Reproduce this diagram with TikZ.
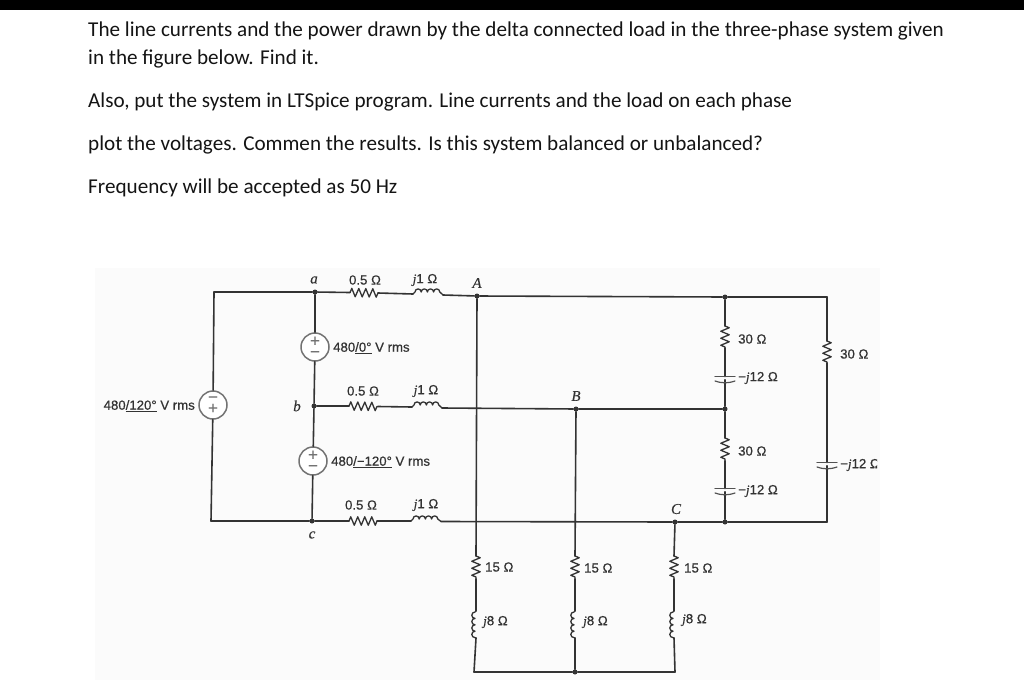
\documentclass[tikz,border=0pt]{standalone}
\usepackage{fontspec}
\setmainfont{Carlito}
\newfontfamily\lab[FakeBold=0.6]{Liberation Sans}
\newfontfamily\ser[FakeBold=0.3]{Liberation Serif}
\usetikzlibrary{decorations.pathmorphing}
\definecolor{ink}{gray}{0.2}
\definecolor{scan}{gray}{0.985}
\newcommand{\ang}[1]{\underline{/#1}}
\newcommand{\jj}{{\ser\itshape j}}
\tikzset{
  x=1pt,y=-1pt,
  wire/.style={draw=ink,line width=1.6pt,line cap=round,line join=round},
  resist/.style={wire,line width=1.3pt,decorate,decoration={zigzag,segment length=7pt,amplitude=4.2pt}},
  headline/.style={anchor=base west,inner sep=0pt,font=\fontsize{21.15pt}{23pt}\selectfont,text=black!92},
  vallabel/.style={inner sep=0pt,text=ink,font=\lab\fontsize{13.2pt}{14pt}\selectfont},
  nodelabel/.style={inner sep=0pt,text=ink,font=\ser\itshape\fontsize{15pt}{16pt}\selectfont},
  jdot/.style={circle,fill=ink,inner sep=0pt,minimum size=5pt},
  srcv/.style={circle,draw=black!55,fill=white,line width=1.5pt,minimum size=28pt,inner sep=0pt,align=center,text=black!55,font=\lab\fontsize{17pt}{11pt}\selectfont},
  plate/.style={draw=ink!85,line width=1.2pt,line cap=round},
}
\newcommand{\hcoil}[2]{\draw[wire,line width=1.3pt] (#1) -- ++(2,-2) arc[start angle=180,end angle=360,radius=3.1] arc[start angle=180,end angle=360,radius=3.1] arc[start angle=180,end angle=360,radius=3.1] arc[start angle=180,end angle=360,radius=3.1] -- (#2);}
\newcommand{\vcoil}[2]{\draw[wire,line width=1.3pt] (#1) -- ++(-1,1) arc[start angle=270,end angle=90,radius=3.2] arc[start angle=270,end angle=90,radius=3.2] arc[start angle=270,end angle=90,radius=3.2] arc[start angle=270,end angle=90,radius=3.2] -- (#2);}
\begin{document}
\begin{tikzpicture}
\useasboundingbox (0,0) rectangle (1024,680);
\fill[white] (0,0) rectangle (1024,680);
\fill[black] (0,0) rectangle (1024,10);
\fill[scan] (95,268) rectangle (880,680);

% heading
\node[headline] (h1) at (88,36) {The line currents and the power drawn by the delta connected load in the three-phase system given};
\node[headline] (h2) at (88,64) {in the figure below. Find it.};
\node[headline] (h3) at (88,107) {Also, put the system in LTSpice program. Line currents and the load on each phase};
\node[headline] (h4) at (88,150) {plot the voltages. Commen the results. Is this system balanced or unbalanced?};
\node[headline] (h5) at (88,193) {Frequency will be accepted as 50 Hz};

% junctions
\node[jdot] (a) at (315,292) {};
\node[jdot] (b) at (314,406) {};
\node[jdot] (c) at (312,521) {};
\node[jdot] (A) at (477,296) {};
\node[jdot] (B) at (576,409) {};
\node[jdot] (C) at (675,522) {};
\node[jdot] (P) at (725,297) {};
\node[jdot] (Q) at (725,409) {};
\node[jdot] (R) at (725,522) {};
\node[jdot] (N) at (575,672) {};

% corners
\coordinate (tl) at (214,292);
\coordinate (bl) at (211,521);
\coordinate (tr) at (827,297);
\coordinate (br) at (827,522);
\coordinate (nl) at (474,672);
\coordinate (nr) at (675,672);

% sources
\node[srcv] (Vl) at (213,405) {−\\+};
\node[srcv] (Va) at (315,347) {+\\−};
\node[srcv] (Vc) at (313,461) {+\\−};

\draw[wire] (tl) -- (a);
\draw[wire] (tl) -- (Vl);
\draw[wire] (bl) -- (Vl);
\draw[wire] (bl) -- (c);
\draw[wire] (a) -- (Va);
\draw[wire] (Va) -- (b);
\draw[wire] (b) -- (Vc);
\draw[wire] (Vc) -- (c);

% line a
\coordinate (r1s) at (350,292.5);
\coordinate (r1e) at (378,293);
\coordinate (l1s) at (413,294);
\coordinate (l1e) at (443,295);
\draw[wire] (a) -- (r1s);
\draw[resist] (r1s) -- (r1e);
\draw[wire] (r1e) -- (l1s);
\hcoil{l1s}{l1e}
\draw[wire] (l1e) -- (A);
\draw[wire] (A) -- (P);
\draw[wire] (P) -- (tr);
% line b
\coordinate (r2s) at (349,406);
\coordinate (r2e) at (378,406.5);
\coordinate (l2s) at (412,407);
\coordinate (l2e) at (442,408);
\draw[wire] (b) -- (r2s);
\draw[resist] (r2s) -- (r2e);
\draw[wire] (r2e) -- (l2s);
\hcoil{l2s}{l2e}
\draw[wire] (l2e) -- (B);
\draw[wire] (B) -- (Q);
% line c
\coordinate (r3s) at (349,521);
\coordinate (r3e) at (377,521);
\coordinate (l3s) at (411,521);
\coordinate (l3e) at (441,521.5);
\draw[wire] (c) -- (r3s);
\draw[resist] (r3s) -- (r3e);
\draw[wire] (r3e) -- (l3s);
\hcoil{l3s}{l3e}
\draw[wire] (l3e) -- (C);
\draw[wire] (C) -- (R);
\draw[wire] (R) -- (br);
\draw[wire] (tr) -- (827,341);

% delta load
\coordinate (d1a) at (725,326); \coordinate (d1b) at (725,348);
\coordinate (c1a) at (725,376.5); \coordinate (c1b) at (725,379.8);
\coordinate (d2a) at (725,438); \coordinate (d2b) at (725,461);
\coordinate (c2a) at (725,488.5); \coordinate (c2b) at (725,491.8);
\coordinate (d3a) at (827,341); \coordinate (d3b) at (827,363);
\coordinate (c3a) at (827,462.5); \coordinate (c3b) at (827,465.8);
\draw[wire] (P) -- (d1a); \draw[resist] (d1a) -- (d1b); \draw[wire] (d1b) -- (c1a);
\draw[wire] (c1b) -- (Q);
\draw[wire] (Q) -- (d2a); \draw[resist] (d2a) -- (d2b); \draw[wire] (d2b) -- (c2a);
\draw[wire] (c2b) -- (R);
\draw[resist] (d3a) -- (d3b); \draw[wire] (d3b) -- (c3a);
\draw[wire] (c3b) -- (br);
\foreach \n in {c1a,c2a,c3a}{\draw[plate] ([xshift=-10pt]\n) -- ([xshift=10pt]\n);}
\foreach \n in {c1b,c2b,c3b}{\draw[plate] ([xshift=-10pt,yshift=-1.2pt]\n) to[bend right=18] ([xshift=10pt,yshift=-1.2pt]\n);}

% wye load
\foreach \n/\x/\t in {u/476/A,v/575/B,w/674/C}{
  \coordinate (\n1) at (\x,556);
  \coordinate (\n2) at (\x,579);
  \coordinate (\n3) at (\x,611);
  \coordinate (\n4) at (\x,638);
  \draw[wire] (\t) -- (\n1);
  \draw[resist] (\n1) -- (\n2);
  \draw[wire] (\n2) -- (\n3);
  \vcoil{\n3}{\n4}
}
\draw[wire] (u4) -- (nl);
\draw[wire] (nl) -- (N);
\draw[wire] (v4) -- (N);
\draw[wire] (w4) -- (nr);
\draw[wire] (nr) -- (N);

% labels
\node[nodelabel] (la) at (314,280) {a};
\node[nodelabel] (lb) at (297,406) {b};
\node[nodelabel] (lc) at (312,535) {c};
\node[nodelabel] (lA) at (477,283) {A};
\node[nodelabel] (lB) at (576,396) {B};
\node[nodelabel] (lC) at (676,509) {C};

\node[vallabel] (t1) at (365,280) {0.5 Ω};
\node[vallabel] (t2) at (425,280) {\jj1 Ω};
\node[vallabel] (t3) at (363,391) {0.5 Ω};
\node[vallabel] (t4) at (426,391) {\jj1 Ω};
\node[vallabel] (t5) at (361,505) {0.5 Ω};
\node[vallabel] (t6) at (426,505) {\jj1 Ω};

\node[vallabel,anchor=west] (v1) at (333,348) {480\ang{0°} V rms};
\node[vallabel,anchor=west] (v2) at (331,462) {480\ang{−120°} V rms};
\node[vallabel,anchor=east] (v3) at (195,406) {480\ang{120°} V rms};

\node[vallabel,anchor=west] (z1) at (738,339) {30 Ω};
\node[vallabel,anchor=west] (z2) at (738,378) {−\jj12 Ω};
\node[vallabel,anchor=west] (z3) at (738,451) {30 Ω};
\node[vallabel,anchor=west] (z4) at (738,491) {−\jj12 Ω};
\node[vallabel,anchor=west] (z5) at (840,354) {30 Ω};
\begin{scope}
\clip (830,450) rectangle (877,480);
\node[vallabel,anchor=west] (z6) at (840,465) {−\jj12 Ω};
\end{scope}

\node[vallabel,anchor=west] (y1) at (485,567) {15 Ω};
\node[vallabel,anchor=west] (y2) at (584,568) {15 Ω};
\node[vallabel,anchor=west] (y3) at (684,568) {15 Ω};
\node[vallabel,anchor=west] (y4) at (483,622) {\jj8 Ω};
\node[vallabel,anchor=west] (y5) at (583,622) {\jj8 Ω};
\node[vallabel,anchor=west] (y6) at (682,620) {\jj8 Ω};
\end{tikzpicture}
\end{document}
